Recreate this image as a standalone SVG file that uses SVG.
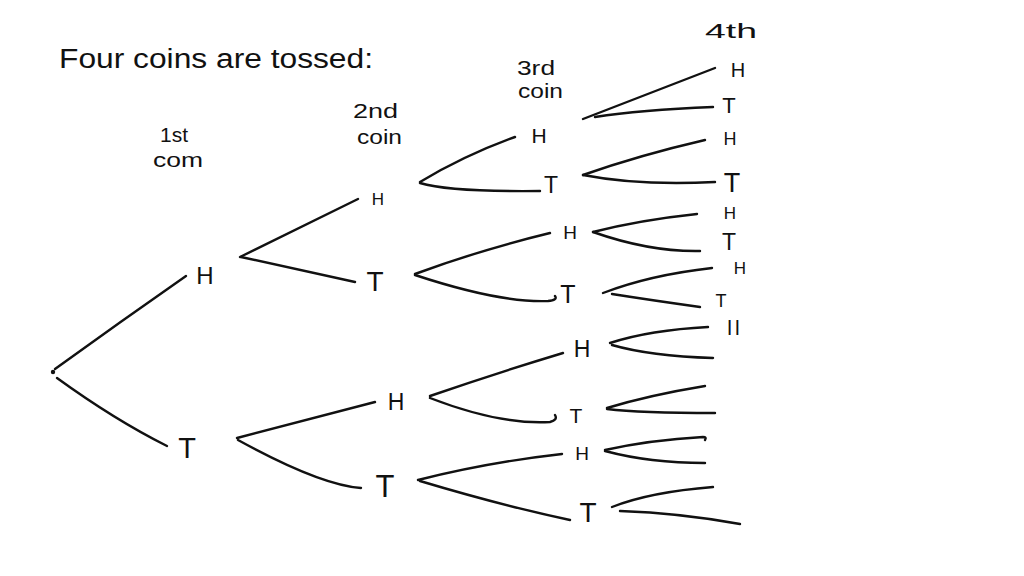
<svg xmlns="http://www.w3.org/2000/svg" width="1024" height="576" viewBox="0 0 1024 576">
<style>
text{font-family:"Liberation Sans","DejaVu Sans",sans-serif;fill:#111;}
.n{text-anchor:middle;}
.lbl{font-size:20px;}
#connectors path{fill:none;stroke:#111;stroke-width:2.4;stroke-linecap:round;stroke-linejoin:round;}
</style>
<rect width="1024" height="576" fill="#fff"/>
<g id="title"><text x="59" y="68" font-size="27" textLength="314" lengthAdjust="spacingAndGlyphs">Four coins are tossed:</text></g>
<g id="labels">
<text class="lbl" x="160" y="142" textLength="28" lengthAdjust="spacingAndGlyphs">1st</text>
<text class="lbl" x="153" y="167" textLength="50" lengthAdjust="spacingAndGlyphs">com</text>
<text class="lbl" x="353" y="118" textLength="45" lengthAdjust="spacingAndGlyphs">2nd</text>
<text class="lbl" x="357" y="144" textLength="45" lengthAdjust="spacingAndGlyphs">coin</text>
<text class="lbl" x="517" y="75" textLength="38" lengthAdjust="spacingAndGlyphs">3rd</text>
<text class="lbl" x="518" y="98" textLength="45" lengthAdjust="spacingAndGlyphs">coin</text>
<text class="lbl" x="705" y="38" font-size="19" textLength="52" lengthAdjust="spacingAndGlyphs">4th</text>
</g>
<g id="connectors">
<path d="M55,369 Q120,322 186,276"/>
<path d="M57,378 Q115,420 167,446"/>
<path d="M240,257 L358,199"/>
<path d="M241,257 L355,282"/>
<path d="M237,438 L375,402"/>
<path d="M238,440 Q320,485 361,488"/>
<path d="M420,182 Q465,155 515,137"/>
<path d="M420,183 Q450,192 540,191"/>
<path d="M415,274 Q480,250 550,233"/>
<path d="M415,275 Q500,303 548,301 Q558,300 555,296"/>
<path d="M430,396 Q500,372 563,353"/>
<path d="M430,398 Q500,425 550,422 Q558,420 555,415"/>
<path d="M418,480 Q490,462 562,454"/>
<path d="M420,481 Q500,505 570,520"/>
<path d="M583,119 L715,68"/>
<path d="M595,117 Q640,110 713,107"/>
<path d="M583,175 Q640,155 705,140"/>
<path d="M583,175 Q640,186 715,182"/>
<path d="M593,232 Q640,220 697,214"/>
<path d="M593,232 Q650,252 700,251"/>
<path d="M603,293 Q650,275 712,268"/>
<path d="M612,294 Q650,300 700,307"/>
<path d="M610,343 Q650,330 708,327"/>
<path d="M612,345 Q650,356 713,358"/>
<path d="M607,408 Q650,395 705,386"/>
<path d="M607,409 Q640,413 715,413"/>
<path d="M605,450 Q650,440 703,437 Q707,437 705,440"/>
<path d="M605,451 Q650,463 705,463"/>
<path d="M612,507 Q650,492 713,487"/>
<path d="M620,511 Q680,513 740,524"/>
</g>
<g id="root"><circle cx="53" cy="372" r="2.2" fill="#111"/></g>
<g id="n1H"><text class="n" x="205" y="284" font-size="24">H</text></g>
<g id="n1T"><text class="n" x="187" y="458" font-size="29">T</text></g>
<g id="n2HH"><text class="n" x="378" y="205" font-size="17">H</text></g>
<g id="n2HT"><text class="n" x="375" y="291" font-size="28">T</text></g>
<g id="n2TH"><text class="n" x="396" y="410" font-size="23">H</text></g>
<g id="n2TT"><text class="n" x="385" y="497" font-size="31">T</text></g>
<g id="n3HHH"><text class="n" x="539" y="143" font-size="21">H</text></g>
<g id="n3HHT"><text class="n" x="551" y="193" font-size="23">T</text></g>
<g id="n3HTH"><text class="n" x="570" y="239" font-size="19">H</text></g>
<g id="n3HTT"><text class="n" x="568" y="303" font-size="25">T</text></g>
<g id="n3THH"><text class="n" x="582" y="357" font-size="23">H</text></g>
<g id="n3THT"><text class="n" x="576" y="423" font-size="21">T</text></g>
<g id="n3TTH"><text class="n" x="582" y="460" font-size="19">H</text></g>
<g id="n3TTT"><text class="n" x="588" y="522" font-size="28">T</text></g>
<g id="n4a"><text class="n" x="738" y="77" font-size="20">H</text></g>
<g id="n4b"><text class="n" x="729" y="113" font-size="22">T</text></g>
<g id="n4c"><text class="n" x="730" y="145" font-size="18">H</text></g>
<g id="n4d"><text class="n" x="732" y="192" font-size="27">T</text></g>
<g id="n4e"><text class="n" x="730" y="219" font-size="17">H</text></g>
<g id="n4f"><text class="n" x="729" y="250" font-size="23">T</text></g>
<g id="n4g"><text class="n" x="740" y="274" font-size="17">H</text></g>
<g id="n4h"><text class="n" x="721" y="307" font-size="18">T</text></g>
<g id="n4i"><text class="n" x="735" y="335" font-size="21" letter-spacing="3">ll</text></g>
</svg>
